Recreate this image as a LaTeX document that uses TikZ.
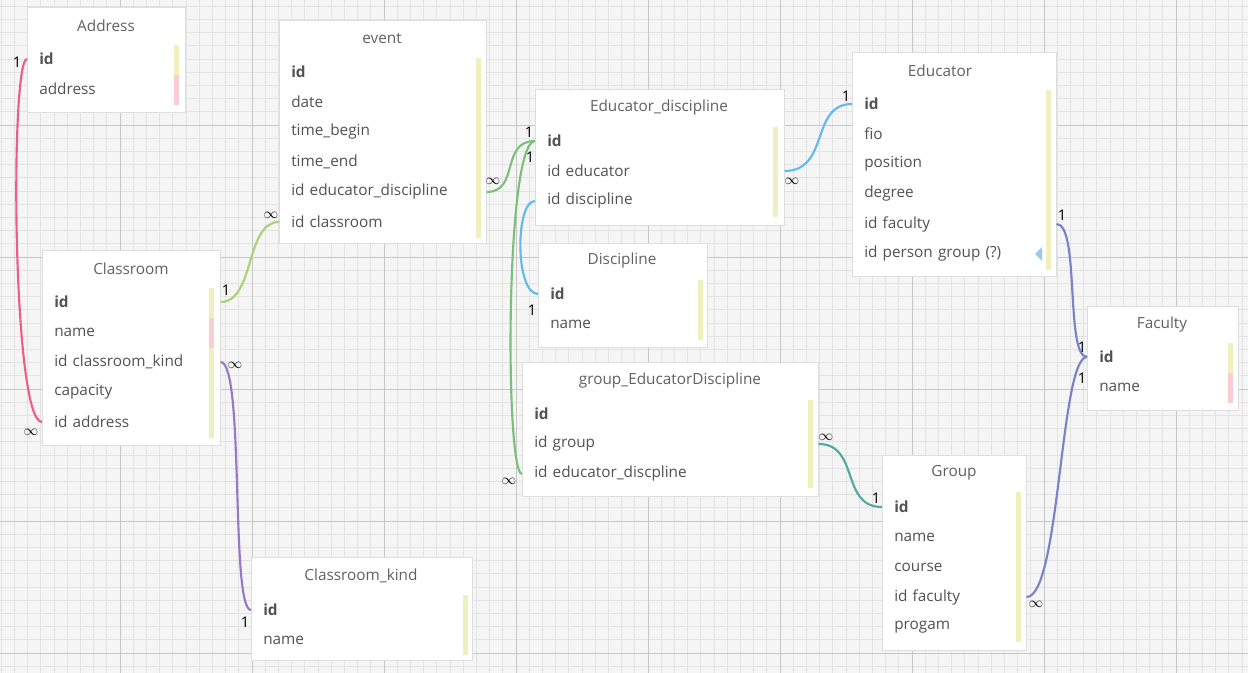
\documentclass[tikz,border=0pt]{standalone}
\usepackage{fontspec}
\setmainfont{Open Sans}
\definecolor{ybarc}{RGB}{240,240,190}
\definecolor{pbarc}{RGB}{250,205,210}
\definecolor{tric}{RGB}{150,200,240}
\begin{document}
\begin{tikzpicture}[x=0.75pt,y=-0.75pt,
 tbl/.style={draw=black!13,fill=white},
 ttl/.style={text=black!62,font=\fontsize{11.5}{13}\selectfont},
 row/.style={anchor=west,inner xsep=9pt,inner ysep=2pt,align=left,text=black!68,font=\fontsize{11.5}{13}\selectfont},
 key/.style={row,font=\fontsize{11.5}{13}\selectfont\bfseries},
 ybar/.style={fill=ybarc,draw=none},
 pbar/.style={fill=pbarc,draw=none},
 lab/.style={font=\fontsize{11}{12}\selectfont,inner sep=0pt},
 conn/.style={line width=1.6pt}]
\useasboundingbox (0,0) rectangle (1248,673);
\fill[black!4] (0,0) rectangle (1248,673);
\foreach \i in {0,...,94} {\draw[black!11,line width=0.5pt] ({1.2+13.2*\i},0) -- ({1.2+13.2*\i},673);}
\foreach \i in {0,...,51} {\draw[black!11,line width=0.5pt] (0,{6.2+13.2*\i}) -- (1248,{6.2+13.2*\i});}
\foreach \i in {0,...,9} {\draw[black!22,line width=0.7pt] ({120+132*(\i-0)},0) -- ({120+132*\i},673);}
\foreach \i in {0,...,5} {\draw[black!22,line width=0.7pt] (0,{125+132*\i}) -- (1248,{125+132*\i});}
\newcommand\trow[6]{\node[#1,text width=\dimexpr(#4pt-#3pt)*3/4-18pt\relax] (#2) at (#3,#5) {#6};}
% Address
\node[tbl,minimum width=118.5pt,minimum height=78.75pt,anchor=north west] (addr) at (27,7) {};
\node[ttl] (addr-t) at (106,26) {Address};
\trow{key}{addr-id}{27}{185}{59}{id}
\trow{row}{addr-a}{27}{185}{89}{address}
\fill[ybar] (174,45) rectangle (179,75); \fill[pbar] (174,75) rectangle (179,105);
% event
\node[tbl,minimum width=155.25pt,minimum height=167.25pt,anchor=north west] (ev) at (279,20) {};
\node[ttl] (ev-t) at (382,39) {event};
\trow{key}{ev-id}{279}{486}{72}{id}
\trow{row}{ev-date}{279}{486}{102}{date}
\trow{row}{ev-tb}{279}{486}{132}{time\_begin}
\trow{row}{ev-te}{279}{486}{162}{time\_end}
\trow{row}{ev-ed}{279}{486}{192}{id educator\_discipline}
\trow{row}{ev-cl}{279}{486}{222}{id classroom}
\fill[ybar] (476,58) rectangle (481,238);
% Educator_discipline
\node[tbl,minimum width=186.75pt,minimum height=102pt,anchor=north west] (edd) at (535,89) {};
\node[ttl] (edd-t) at (659,108) {Educator\_discipline};
\trow{key}{edd-id}{535}{784}{141}{id}
\trow{row}{edd-e}{535}{784}{171}{id educator}
\trow{row}{edd-d}{535}{784}{201}{id discipline}
\fill[ybar] (773,127) rectangle (778,217);
% Discipline
\node[tbl,minimum width=126.75pt,minimum height=78pt,anchor=north west] (dis) at (538,243) {};
\node[ttl] (dis-t) at (622,261) {Discipline};
\trow{key}{dis-id}{538}{707}{294}{id}
\trow{row}{dis-n}{538}{707}{324}{name}
\fill[ybar] (698,280) rectangle (703,340);
% group_EducatorDiscipline
\node[tbl,minimum width=222pt,minimum height=100.5pt,anchor=north west] (ged) at (522,362) {};
\node[ttl] (ged-t) at (670,381) {group\_EducatorDiscipline};
\trow{key}{ged-id}{522}{818}{414}{id}
\trow{row}{ged-g}{522}{818}{444}{id group}
\trow{row}{ged-e}{522}{818}{474}{id educator\_discpline}
\fill[ybar] (808,400) rectangle (813,488);
% Educator
\node[tbl,minimum width=153pt,minimum height=168pt,anchor=north west] (edu) at (852,52) {};
\node[ttl] (edu-t) at (940,71) {Educator};
\trow{key}{edu-id}{852}{1056}{104}{id}
\trow{row}{edu-f}{852}{1056}{134}{fio}
\trow{row}{edu-p}{852}{1056}{164}{position}
\trow{row}{edu-d}{852}{1056}{194}{degree}
\trow{row}{edu-fa}{852}{1056}{224}{id faculty}
\trow{row}{edu-pg}{852}{1056}{254}{id person group (?)}
\fill[ybar] (1046,90) rectangle (1051,270);
\fill[tric] (1035,254) -- (1042,247) -- (1042,261) -- cycle;
% Faculty
\node[tbl,minimum width=113.25pt,minimum height=78pt,anchor=north west] (fac) at (1087,306) {};
\node[ttl] (fac-t) at (1162,325) {Faculty};
\trow{key}{fac-id}{1087}{1238}{357}{id}
\trow{row}{fac-n}{1087}{1238}{387}{name}
\fill[ybar] (1228,343) rectangle (1233,373); \fill[pbar] (1228,373) rectangle (1233,403);
% Classroom
\node[tbl,minimum width=133.5pt,minimum height=146.25pt,anchor=north west] (cls) at (42,250) {};
\node[ttl] (cls-t) at (131,269) {Classroom};
\trow{key}{cls-id}{42}{220}{302}{id}
\trow{row}{cls-n}{42}{220}{332}{name}
\trow{row}{cls-k}{42}{220}{362}{id classroom\_kind}
\trow{row}{cls-c}{42}{220}{392}{capacity}
\trow{row}{cls-a}{42}{220}{422}{id address}
\fill[ybar] (209,288) rectangle (214,318); \fill[pbar] (209,318) rectangle (214,348); \fill[ybar] (209,348) rectangle (214,438);
% Classroom_kind
\node[tbl,minimum width=165.75pt,minimum height=77.25pt,anchor=north west] (ck) at (251,557) {};
\node[ttl] (ck-t) at (361,576) {Classroom\_kind};
\trow{key}{ck-id}{251}{472}{610}{id}
\trow{row}{ck-n}{251}{472}{640}{name}
\fill[ybar] (463,595) rectangle (468,655);
% Group
\node[tbl,minimum width=108pt,minimum height=146.25pt,anchor=north west] (grp) at (882,455) {};
\node[ttl] (grp-t) at (954,473) {Group};
\trow{key}{grp-id}{882}{1026}{507}{id}
\trow{row}{grp-n}{882}{1026}{537}{name}
\trow{row}{grp-c}{882}{1026}{567}{course}
\trow{row}{grp-f}{882}{1026}{597}{id faculty}
\trow{row}{grp-p}{882}{1026}{627}{progam}
\fill[ybar] (1016,492) rectangle (1021,642);
% connectors
\draw[conn,color={rgb,255:red,235;green,95;blue,135}] (addr-id.west) .. controls (10,59) and (12,422) .. (cls-a.west);
\draw[conn,color={rgb,255:red,170;green,210;blue,120}] (cls-id.east) .. controls (255,302) and (245,222) .. (ev-cl.west);
\draw[conn,color={rgb,255:red,125;green,190;blue,125}] (ev-ed.east) .. controls (520,192) and (500,141) .. (edd-id.west);
\draw[conn,color={rgb,255:red,125;green,190;blue,125}] (ged-e.west) .. controls (505,474) and (505,141) .. (edd-id.west);
\draw[conn,color={rgb,255:red,100;green,185;blue,235}] (dis-id.west) .. controls (515,294) and (515,201) .. (edd-d.west);
\draw[conn,color={rgb,255:red,100;green,185;blue,235}] (edd-e.east) .. controls (830,171) and (810,104) .. (edu-id.west);
\draw[conn,color={rgb,255:red,150;green,120;blue,200}] (cls-k.east) .. controls (245,362) and (230,610) .. (ck-id.west);
\draw[conn,color={rgb,255:red,80;green,170;blue,160}] (ged-g.east) .. controls (860,444) and (840,507) .. (grp-id.west);
\draw[conn,color={rgb,255:red,120;green,130;blue,200}] (edu-fa.east) .. controls (1080,224) and (1065,357) .. (fac-id.west);
\draw[conn,color={rgb,255:red,120;green,130;blue,200}] (grp-f.east) .. controls (1060,597) and (1060,357) .. (fac-id.west);
% labels
\node[lab] (l1) at (17,62) {1}; \node[lab] (l2) at (31,432) {$\infty$};
\node[lab] (l3) at (226,290) {1}; \node[lab] (l4) at (271,215) {$\infty$};
\node[lab] (l5) at (493,181) {$\infty$}; \node[lab] (l6) at (529,132) {1};
\node[lab] (l7) at (530,157) {1}; \node[lab] (l8) at (509,481) {$\infty$};
\node[lab] (l9) at (532,310) {1};
\node[lab] (l10) at (792,181) {$\infty$}; \node[lab] (l11) at (846,96) {1};
\node[lab] (l12) at (235,365) {$\infty$}; \node[lab] (l13) at (245,622) {1};
\node[lab] (l14) at (826,437) {$\infty$}; \node[lab] (l15) at (876,498) {1};
\node[lab] (l16) at (1062,215) {1}; \node[lab] (l17) at (1082,347) {1};
\node[lab] (l18) at (1036,604) {$\infty$}; \node[lab] (l19) at (1082,378) {1};
\end{tikzpicture}
\end{document}
